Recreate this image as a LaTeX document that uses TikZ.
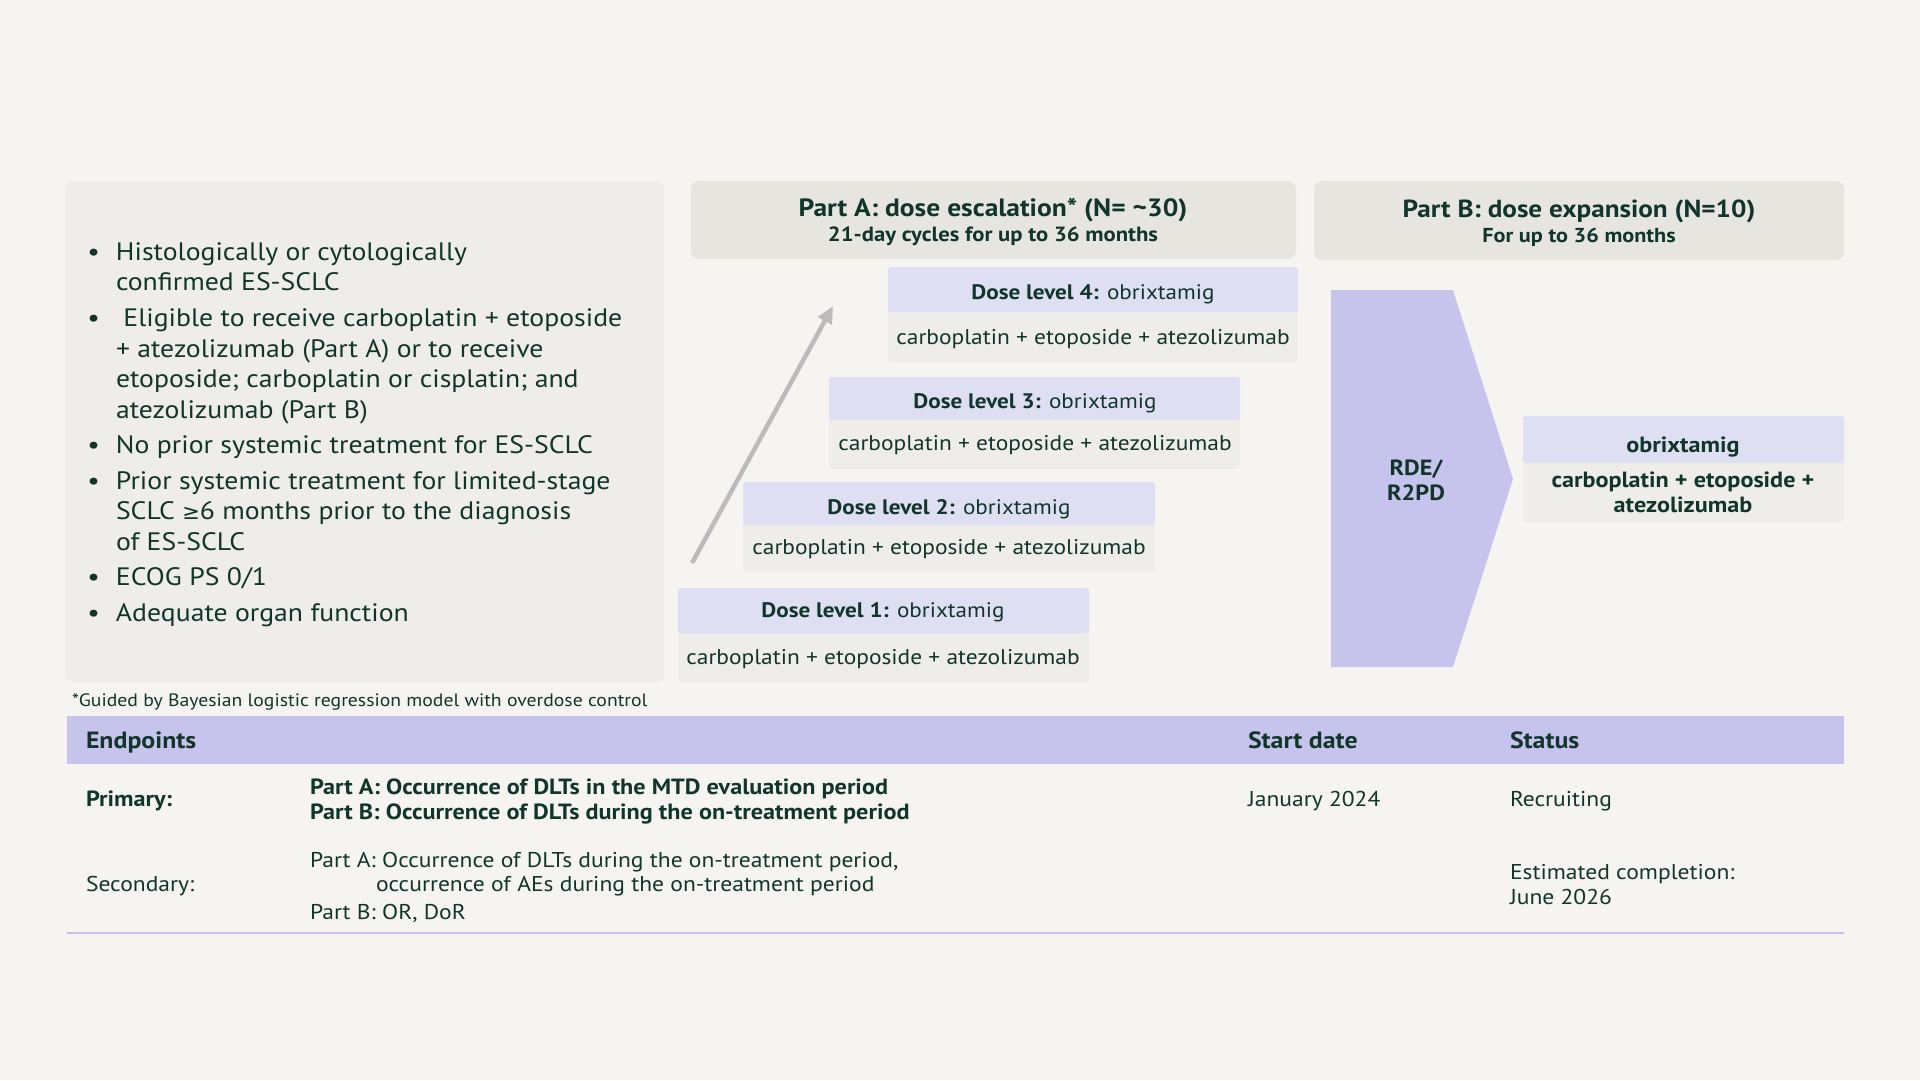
\documentclass[tikz,border=0pt]{standalone}
\usepackage{fontspec}
\setmainfont{PT Sans}[FakeStretch=1.1]
\newfontfamily\symfont{DejaVu Sans}
\usetikzlibrary{arrows.meta}
\definecolor{bg}{HTML}{F5F4F1}
\definecolor{panel}{HTML}{EEEDE9}
\definecolor{hdr}{HTML}{E6E5E0}
\definecolor{lav}{HTML}{DFDFF4}
\definecolor{bodyg}{HTML}{EEEDEA}
\definecolor{lavd}{HTML}{C6C3EC}
\definecolor{ink}{HTML}{12352B}
\definecolor{arr}{HTML}{BBBBBB}
\begin{document}
\begin{tikzpicture}[x=1pt,y=-1pt,
  every node/.style={text=ink, inner sep=0pt, outer sep=0pt},
  rect/.style={anchor=north west, draw=none, rounded corners=3pt},
  dlh/.style={rect, fill=lav, minimum width=#1, minimum height=45pt},
  dlb/.style={rect, fill=bodyg, minimum width=#1, minimum height=50pt},
  dlt/.style={font=\fontsize{21}{24}\selectfont},
  dbt/.style={font=\fontsize{21.3}{24}\selectfont},
  lab/.style={anchor=west, font=\fontsize{21.4}{25}\selectfont},
  labb/.style={anchor=west, font=\fontsize{22}{25}\selectfont\bfseries},
  thd/.style={anchor=west, font=\fontsize{23.5}{26}\selectfont\bfseries},
]
\fill[bg] (0,0) rectangle (1920,1080);
\useasboundingbox (0,0) rectangle (1920,1080);

% left panel
\node[rect, fill=panel, rounded corners=8pt, minimum width=599pt, minimum height=501pt] (panel) at (65,181) {};
\node[anchor=north west, align=left, font=\fontsize{25.2}{30.6}\selectfont] (crit) at (116,242.5) {%
\llap{\textbullet\hspace{16pt}}Histologically or cytologically\\
confirmed ES-SCLC\\[4.9pt]
\llap{\textbullet\hspace{16pt}}\ Eligible to receive carboplatin + etoposide\\
+ atezolizumab (Part A) or to receive\\
etoposide; carboplatin or cisplatin; and\\
atezolizumab (Part B)\\[4.9pt]
\llap{\textbullet\hspace{16pt}}No prior systemic treatment for ES-SCLC\\[4.9pt]
\llap{\textbullet\hspace{16pt}}Prior systemic treatment for limited-stage\\
SCLC {\symfont\fontsize{21}{24}\selectfont ≥}6 months prior to the diagnosis\\
of ES-SCLC\\[4.9pt]
\llap{\textbullet\hspace{16pt}}ECOG PS 0/1\\[4.9pt]
\llap{\textbullet\hspace{16pt}}Adequate organ function};

% Part headers
\node[rect, fill=hdr, rounded corners=8pt, minimum width=605pt, minimum height=78pt] (pa) at (691,181) {};
\node[font=\fontsize{25}{28}\selectfont\bfseries] (pat) at (993,210) {Part A: dose escalation* (N= \textasciitilde30)};
\node[font=\fontsize{20.6}{22}\selectfont\bfseries] (pas) at (993,236) {21-day cycles for up to 36 months};
\node[rect, fill=hdr, rounded corners=8pt, minimum width=530pt, minimum height=79pt] (pb) at (1314,181) {};
\node[font=\fontsize{24.7}{28}\selectfont\bfseries] (pbt) at (1579,211) {Part B: dose expansion (N=10)};
\node[font=\fontsize{20.2}{22}\selectfont\bfseries] (pbs) at (1579,237) {For up to 36 months};

% dose levels
\node[dlb=410pt, minimum height=57pt] (d4b) at (888,305) {};
\node[dlh=410pt] (d4h) at (888,267) {};
\node[dlt] (d4ht) at (1093,294) {\textbf{Dose level 4:} obrixtamig};
\node[dbt] (d4bt) at (1093,339) {carboplatin + etoposide + atezolizumab};

\node[dlb=411pt, minimum height=57pt] (d3b) at (829,412) {};
\node[dlh=411pt, minimum height=43pt] (d3h) at (829,377) {};
\node[dlt] (d3ht) at (1035,403) {\textbf{Dose level 3:} obrixtamig};
\node[dbt] (d3bt) at (1035,445) {carboplatin + etoposide + atezolizumab};

\node[dlb=412pt, minimum height=54pt] (d2b) at (743,518) {};
\node[dlh=412pt, minimum height=43pt] (d2h) at (743,482) {};
\node[dlt] (d2ht) at (949,509) {\textbf{Dose level 2:} obrixtamig};
\node[dbt] (d2bt) at (949,549) {carboplatin + etoposide + atezolizumab};

\node[dlb=411pt, minimum height=56pt] (d1b) at (678,626) {};
\node[dlh=411pt, minimum height=45pt] (d1h) at (678,588) {};
\node[dlt] (d1ht) at (883,612) {\textbf{Dose level 1:} obrixtamig};
\node[dbt] (d1bt) at (883,659) {carboplatin + etoposide + atezolizumab};

% escalation arrow
\coordinate (arS) at (692,563);
\coordinate (arE) at (833,306);
\draw[arr, line width=4.5pt, -{Triangle[length=17pt,width=15pt]}] (arS) -- (arE);

% chevron
\fill[lavd] (1331,290) -- (1453,290) -- (1513,479) -- (1453,667) -- (1331,667) -- cycle;
\node[align=center, font=\fontsize{22}{25}\selectfont\bfseries] (rde) at (1416,480) {RDE/\\R2PD};

% part B box
\node[rect, fill=bodyg, minimum width=321pt, minimum height=66pt] (pbb) at (1523,456) {};
\node[rect, fill=lav, minimum width=321pt, minimum height=47pt] (pbh) at (1523,416) {};
\node[font=\fontsize{22}{24}\selectfont\bfseries] (pbht) at (1683,447) {obrixtamig};
\node[align=center, font=\fontsize{22}{25}\selectfont\bfseries] (pbbt) at (1683,492) {carboplatin + etoposide +\\atezolizumab};

% footnote
\node[anchor=west, font=\fontsize{17.9}{20}\selectfont] (fn) at (72,702) {*Guided by Bayesian logistic regression model with overdose control};

% table
\node[anchor=north west, fill=lavd, minimum width=1777pt, minimum height=48pt] (th) at (67,716) {};
\node[thd] (ep) at (86,742) {Endpoints};
\node[thd] (sd) at (1248,740) {Start date};
\node[thd] (st) at (1510,740) {Status};

\node[labb] (prim) at (86,801) {Primary:};
\node[labb] (pa1) at (310,789) {Part A: Occurrence of DLTs in the MTD evaluation period};
\node[labb] (pb1) at (310,814) {Part B: Occurrence of DLTs during the on-treatment period};
\node[lab] (jan) at (1248,801) {January 2024};
\node[lab] (rec) at (1510,801) {Recruiting};

\node[lab] (sec) at (86,886) {Secondary:};
\node[lab] (pa2) at (310,862) {Part A: Occurrence of DLTs during the on-treatment period,};
\node[lab] (pa3) at (376,886) {occurrence of AEs during the on-treatment period};
\node[lab] (pb2) at (310,913) {Part B: OR, DoR};
\node[lab] (est) at (1510,874) {Estimated completion:};
\node[lab] (jun) at (1510,897) {June 2026};

\coordinate (blL) at (67,933);
\coordinate (blR) at (1844,933);
\draw[lavd, line width=1.5pt] (blL) -- (blR);
\end{tikzpicture}
\end{document}
